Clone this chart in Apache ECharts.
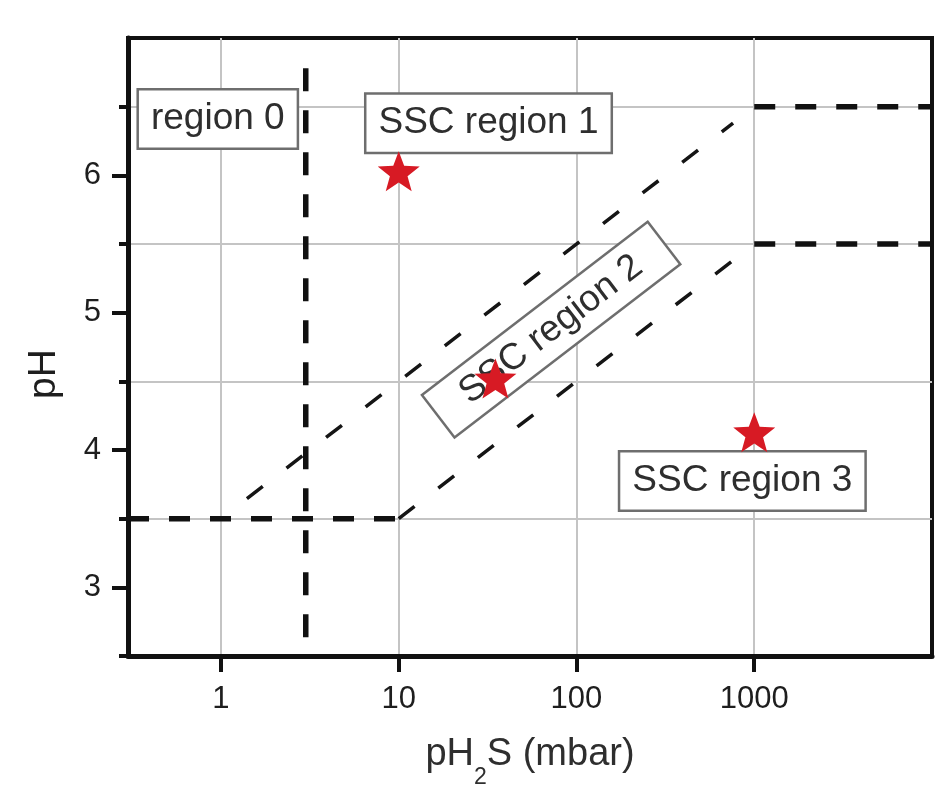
<!DOCTYPE html>
<html><head><meta charset="utf-8">
<script src="https://cdn.jsdelivr.net/npm/echarts@6/dist/echarts.min.js"></script>
<style>html,body{margin:0;padding:0;background:#fff}#c{width:942px;height:792px}</style>
</head><body><div id="c"></div>
<script>
// ---- data ----
const xTicks = [1, 10, 100, 1000];
const yTicks = [3, 4, 5, 6];
const yGrid = [2.5, 3.5, 4.5, 5.5, 6.5];
const starPoints = [[10, 6.03], [35, 4.52], [1000, 4.13]];
const regionNames = ['region 0', 'SSC region 1', 'SSC region 2', 'SSC region 3'];
const regionAnchors = [[0.96, 6.41], [32, 6.38], [72, 4.876], [857, 3.774]];
const boundaryVertical = [[3, 6.78], [3, 2.58]];
const boundaryLeft = [[0.3, 3.5], [10, 3.5]];
const boundaryTop = [[1000, 6.5], [10000, 6.5]];
const boundaryMid = [[1000, 5.5], [10000, 5.5]];
const diagUpper = [[1.4, 3.646], [760, 6.38]];
const diagLower = [[10, 3.5], [760, 5.38]];

const FONT = 'Liberation Sans';

function starPath(inner) {
  const pts = [];
  for (let i = 0; i < 10; i++) {
    const r = i % 2 ? 50 * inner : 50;
    const a = -Math.PI / 2 + i * Math.PI / 5;
    pts.push((50 + r * Math.cos(a)).toFixed(2) + ' ' + (50 + r * Math.sin(a)).toFixed(2));
  }
  return 'path://M' + pts.join(' L') + ' Z';
}

const thick = { color: '#111', width: 5.5, type: [21, 20], cap: 'butt' };
const thin = { color: '#151515', width: 3.5, type: [20, 30], cap: 'butt' };
function lineSeries(data, style) {
  return { type: 'line', data: data, symbol: 'none', silent: true, z: 2, lineStyle: style, animation: false };
}

const labelBase = {
  show: true, position: 'inside', formatter: '{b}',
  fontFamily: FONT, fontSize: 37, lineHeight: 40, color: '#2e2e2e',
  backgroundColor: '#fff', borderColor: '#6e6e6e', borderWidth: 2.5,
  padding: [9, 12, 8, 12]
};

const regionData = regionNames.map((n, i) => {
  const item = { name: n, value: regionAnchors[i] };
  if (i === 2) item.label = { rotate: 37.5, padding: [6, 31, 5, 31] };
  return item;
});

const option = {
  animation: false,
  backgroundColor: '#fff',
  grid: { left: 128, right: 10, top: 38, bottom: 136, show: true, borderColor: '#111', borderWidth: 4,
          backgroundColor: 'transparent', containLabel: false, outerBoundsMode: 'none' },
  xAxis: {
    type: 'log', logBase: 10, min: 0.3, max: 10000,
    axisLine: { show: true, onZero: false, lineStyle: { color: '#111', width: 5 } },
    axisTick: { show: true, customValues: xTicks, length: 16, lineStyle: { color: '#111', width: 4 } },
    axisLabel: { show: true, customValues: xTicks, margin: 28, fontFamily: FONT, fontSize: 31, color: '#1e1e1e',
                 formatter: v => String(Math.round(v)) },
    splitLine: { show: true, lineStyle: { color: '#c4c4c4', width: 2 } },
    name: '{m|pH}{s|2}{m|S (mbar)}', nameLocation: 'middle', nameGap: 64,
    nameTextStyle: { fontFamily: FONT, fontSize: 38, color: '#2e2e2e',
      rich: { m: { fontFamily: FONT, fontSize: 38, color: '#2e2e2e' },
              s: { fontFamily: FONT, fontSize: 23, color: '#2e2e2e', padding: [46, 0, 0, 0] } } }
  },
  yAxis: [{
    type: 'value', position: 'left', min: 2.5, max: 7,
    axisLine: { show: true, onZero: false, lineStyle: { color: '#111', width: 5 } },
    axisTick: { show: true, customValues: yTicks, length: 16, lineStyle: { color: '#111', width: 4 } },
    axisLabel: { show: true, customValues: yTicks, margin: 27, fontFamily: FONT, fontSize: 31, color: '#1e1e1e' },
    splitLine: { show: false },
    name: 'pH', nameLocation: 'middle', nameGap: 64,
    nameTextStyle: { fontFamily: FONT, fontSize: 39, color: '#1e1e1e', padding: [0, 54, 0, 0] }
  }, {
    type: 'value', position: 'left', min: 2.5, max: 7, interval: 1,
    axisLine: { show: false },
    axisTick: { show: true, customValues: yGrid, length: 9, lineStyle: { color: '#111', width: 4 } },
    axisLabel: { show: false },
    splitLine: { show: true, lineStyle: { color: '#c4c4c4', width: 2 } }
  }],
  series: [
    lineSeries(boundaryVertical, Object.assign({}, thick, { type: [23, 19] })),
    lineSeries(boundaryLeft, thick),
    lineSeries(boundaryTop, thick),
    lineSeries(boundaryMid, thick),
    lineSeries(diagUpper, thin),
    lineSeries(diagLower, thin),
    { type: 'scatter', data: regionData, symbolSize: 0, z: 3, silent: true, label: labelBase,
      itemStyle: { opacity: 1 } },
    { type: 'scatter', data: starPoints, symbol: starPath(0.42), symbolSize: [42, 40], z: 5, silent: true,
      itemStyle: { color: '#d71a24', opacity: 1 } }
  ]
};

const chart = echarts.init(document.getElementById('c'), null, { renderer: 'canvas' });
chart.setOption(option);
</script>
</body></html>
